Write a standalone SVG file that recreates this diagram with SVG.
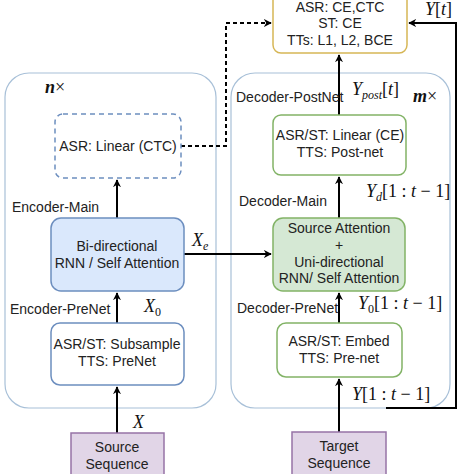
<svg xmlns="http://www.w3.org/2000/svg" width="474" height="474" viewBox="0 0 474 474">
<defs>
<marker id="ah" viewBox="0 0 10 10" refX="9" refY="5" markerWidth="8" markerHeight="8" markerUnits="userSpaceOnUse" orient="auto"><path d="M0,0 L10,5 L0,10 L3,5 Z" fill="#000"/></marker>
<style>
.t{font-family:"Liberation Sans",Arial,sans-serif;font-size:14px;fill:#222;text-anchor:middle}
.l{font-family:"Liberation Sans",Arial,sans-serif;font-size:14px;fill:#222}
.m{font-family:"Liberation Serif","Times New Roman",serif;font-size:18px;fill:#111}
.i{font-style:italic}
.cont{fill:none;stroke:#a8c0d8;stroke-width:1.2}
.blue{fill:#fff;stroke:#6c8ebf;stroke-width:1.5}
.bluef{fill:#dae8fc;stroke:#6c8ebf;stroke-width:1.5}
.green{fill:#fff;stroke:#82b366;stroke-width:1.5}
.greenf{fill:#d5e8d4;stroke:#82b366;stroke-width:1.5}
.purp{fill:#e1d5e7;stroke:#9673a6;stroke-width:1.5}
.gold{fill:#fff;stroke:#d6b656;stroke-width:1.5}
.dash{fill:#fff;stroke:#6c8ebf;stroke-width:1.5;stroke-dasharray:5 4}
.c{fill:none;stroke:#000;stroke-width:2}
</style>
</defs>
<rect width="474" height="474" fill="#fff"/>
<g id="containers">
<rect class="cont" x="5" y="73" width="211" height="335" rx="24"/>
<rect class="cont" x="231" y="73" width="219" height="335" rx="24"/>
</g>
<g id="connectors">
<path class="c" d="M181,146 H226 V23 H271" stroke-dasharray="4 3" marker-end="url(#ah)"/>
<path class="c" d="M386,408 H456 V23 H409" marker-end="url(#ah)"/>
<path class="c" d="M339,115 V55" marker-end="url(#ah)"/>
<path class="c" d="M339,218 V177" marker-end="url(#ah)"/>
<path class="c" d="M339,432 V379" marker-end="url(#ah)"/>
<path class="c" d="M339,323 V293" marker-end="url(#ah)"/>
<path class="c" d="M184,254 H271" marker-end="url(#ah)"/>
<path class="c" d="M117,218 V180" marker-end="url(#ah)"/>
<path class="c" d="M117,323 V293" marker-end="url(#ah)"/>
<path class="c" d="M117,433 V387" marker-end="url(#ah)"/>
</g>
<g id="loss">
<rect class="gold" x="273" y="-12" width="134" height="65" rx="8"/>
<text class="t" x="340" y="12">ASR: CE,CTC</text>
<text class="t" x="340" y="28">ST: CE</text>
<text class="t" x="340" y="45">TTs: L1, L2, BCE</text>
</g>
<g id="ctc">
<rect class="dash" x="55" y="114" width="126" height="64" rx="8"/>
<text class="t" x="118" y="151">ASR: Linear (CTC)</text>
</g>
<g id="bidir">
<rect class="bluef" x="51" y="218" width="133" height="73" rx="10"/>
<text class="t" x="117" y="251">Bi-directional</text>
<text class="t" x="117" y="268">RNN / Self Attention</text>
</g>
<g id="subsample">
<rect class="blue" x="51" y="323" width="133" height="62" rx="9"/>
<text class="t" x="117" y="349">ASR/ST: Subsample</text>
<text class="t" x="117" y="366">TTS: PreNet</text>
</g>
<g id="source">
<rect class="purp" x="71" y="433" width="93" height="50"/>
<text class="t" x="117" y="452">Source</text>
<text class="t" x="117" y="469">Sequence</text>
</g>
<g id="linear">
<rect class="green" x="273" y="115" width="133" height="60" rx="8"/>
<text class="t" x="340" y="140">ASR/ST: Linear (CE)</text>
<text class="t" x="340" y="157">TTS: Post-net</text>
</g>
<g id="srcatt">
<rect class="greenf" x="273" y="218" width="132" height="73" rx="10"/>
<text class="t" x="339" y="233">Source Attention</text>
<text class="t" x="339" y="250">+</text>
<text class="t" x="339" y="267">Uni-directional</text>
<text class="t" x="339" y="283">RNN/ Self Attention</text>
</g>
<g id="embed">
<rect class="green" x="277" y="323" width="125" height="54" rx="9"/>
<text class="t" x="339" y="346">ASR/ST: Embed</text>
<text class="t" x="339" y="363">TTS: Pre-net</text>
</g>
<g id="target">
<rect class="purp" x="292" y="432" width="94" height="50"/>
<text class="t" x="339" y="451">Target</text>
<text class="t" x="339" y="468">Sequence</text>
</g>
<g id="labels">
<text class="l" x="236" y="102">Decoder-PostNet</text>
<text class="l" x="239" y="206">Decoder-Main</text>
<text class="l" x="237" y="313">Decoder-PreNet</text>
<text class="l" x="12" y="212">Encoder-Main</text>
<text class="l" x="10" y="314">Encoder-PreNet</text>
<text class="m" x="45" y="93"><tspan class="i" font-weight="bold">n</tspan>×</text>
<text class="m" x="413" y="102"><tspan class="i" font-weight="bold">m</tspan>×</text>
<text class="m" x="425" y="15"><tspan class="i">Y</tspan>[<tspan class="i">t</tspan>]</text>
<text class="m" x="352" y="95"><tspan class="i">Y</tspan><tspan class="i" font-size="12" dy="4">post</tspan><tspan dy="-4">[</tspan><tspan class="i">t</tspan>]</text>
<text class="m" x="366" y="197"><tspan class="i">Y</tspan><tspan class="i" font-size="12" dy="4">d</tspan><tspan dy="-4">[1 : </tspan><tspan class="i">t</tspan> − 1]</text>
<text class="m" x="358" y="309"><tspan class="i">Y</tspan><tspan font-size="12" dy="4">0</tspan><tspan dy="-4">[1 : </tspan><tspan class="i">t</tspan> − 1]</text>
<text class="m" x="352" y="400"><tspan class="i">Y</tspan>[1 : <tspan class="i">t</tspan> − 1]</text>
<text class="m" x="192" y="246"><tspan class="i">X</tspan><tspan class="i" font-size="12" dy="4">e</tspan></text>
<text class="m" x="144" y="312"><tspan class="i">X</tspan><tspan font-size="12" dy="4">0</tspan></text>
<text class="m" x="133" y="428"><tspan class="i">X</tspan></text>
</g>
</svg>
